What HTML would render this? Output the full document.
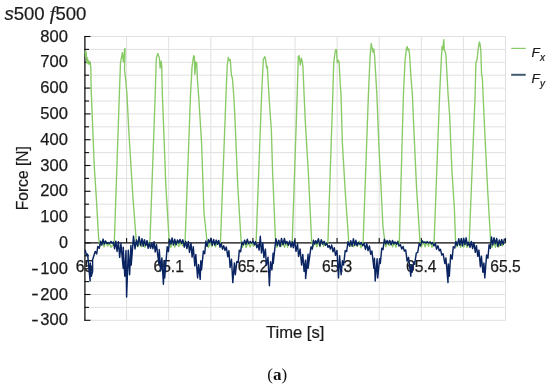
<!DOCTYPE html>
<html><head><meta charset="utf-8"><style>
html,body{margin:0;padding:0;background:#fff;}
svg{display:block;}
.lab{font-family:"Liberation Sans",sans-serif;font-size:16.5px;fill:#1a1a1a;stroke:#1a1a1a;stroke-width:0.25px;}
.t{font-family:"Liberation Sans",sans-serif;fill:#1a1a1a;stroke:#1a1a1a;stroke-width:0.2px;}
</style></head><body>
<svg width="550" height="389" viewBox="0 0 550 389">
<rect width="550" height="389" fill="#fff"/>
<text class="t" x="4.4" y="20.1" font-size="17.5" textLength="82" lengthAdjust="spacingAndGlyphs"><tspan font-style="italic">s</tspan>500 <tspan font-style="italic" font-family="Liberation Serif,serif" font-size="19">f</tspan>500</text>
<g stroke="#e0e0e0" stroke-width="1"><line x1="85" y1="36.50" x2="505.5" y2="36.50"/><line x1="85" y1="49.40" x2="505.5" y2="49.40"/><line x1="85" y1="62.30" x2="505.5" y2="62.30"/><line x1="85" y1="75.20" x2="505.5" y2="75.20"/><line x1="85" y1="88.10" x2="505.5" y2="88.10"/><line x1="85" y1="101.00" x2="505.5" y2="101.00"/><line x1="85" y1="113.90" x2="505.5" y2="113.90"/><line x1="85" y1="126.80" x2="505.5" y2="126.80"/><line x1="85" y1="139.70" x2="505.5" y2="139.70"/><line x1="85" y1="152.60" x2="505.5" y2="152.60"/><line x1="85" y1="165.50" x2="505.5" y2="165.50"/><line x1="85" y1="178.40" x2="505.5" y2="178.40"/><line x1="85" y1="191.30" x2="505.5" y2="191.30"/><line x1="85" y1="204.20" x2="505.5" y2="204.20"/><line x1="85" y1="217.10" x2="505.5" y2="217.10"/><line x1="85" y1="230.00" x2="505.5" y2="230.00"/><line x1="85" y1="242.90" x2="505.5" y2="242.90"/><line x1="85" y1="255.80" x2="505.5" y2="255.80"/><line x1="85" y1="268.70" x2="505.5" y2="268.70"/><line x1="85" y1="281.60" x2="505.5" y2="281.60"/><line x1="85" y1="294.50" x2="505.5" y2="294.50"/><line x1="85" y1="307.40" x2="505.5" y2="307.40"/><line x1="85" y1="320.30" x2="505.5" y2="320.30"/><line x1="126.60" y1="36.50" x2="126.60" y2="320.30"/><line x1="168.70" y1="36.50" x2="168.70" y2="320.30"/><line x1="210.80" y1="36.50" x2="210.80" y2="320.30"/><line x1="252.90" y1="36.50" x2="252.90" y2="320.30"/><line x1="295.00" y1="36.50" x2="295.00" y2="320.30"/><line x1="337.10" y1="36.50" x2="337.10" y2="320.30"/><line x1="379.20" y1="36.50" x2="379.20" y2="320.30"/><line x1="421.30" y1="36.50" x2="421.30" y2="320.30"/><line x1="463.40" y1="36.50" x2="463.40" y2="320.30"/><line x1="505.50" y1="36.50" x2="505.50" y2="320.30"/></g>
<g stroke="#111" stroke-width="1.1"><line x1="84.9" y1="36.00" x2="84.9" y2="320.80" stroke-width="1.3"/><line x1="84.5" y1="36.50" x2="90.5" y2="36.50"/><line x1="84.5" y1="49.40" x2="89" y2="49.40"/><line x1="84.5" y1="62.30" x2="90.5" y2="62.30"/><line x1="84.5" y1="75.20" x2="89" y2="75.20"/><line x1="84.5" y1="88.10" x2="90.5" y2="88.10"/><line x1="84.5" y1="101.00" x2="89" y2="101.00"/><line x1="84.5" y1="113.90" x2="90.5" y2="113.90"/><line x1="84.5" y1="126.80" x2="89" y2="126.80"/><line x1="84.5" y1="139.70" x2="90.5" y2="139.70"/><line x1="84.5" y1="152.60" x2="89" y2="152.60"/><line x1="84.5" y1="165.50" x2="90.5" y2="165.50"/><line x1="84.5" y1="178.40" x2="89" y2="178.40"/><line x1="84.5" y1="191.30" x2="90.5" y2="191.30"/><line x1="84.5" y1="204.20" x2="89" y2="204.20"/><line x1="84.5" y1="217.10" x2="90.5" y2="217.10"/><line x1="84.5" y1="230.00" x2="89" y2="230.00"/><line x1="84.5" y1="242.90" x2="90.5" y2="242.90"/><line x1="84.5" y1="255.80" x2="89" y2="255.80"/><line x1="84.5" y1="268.70" x2="90.5" y2="268.70"/><line x1="84.5" y1="281.60" x2="89" y2="281.60"/><line x1="84.5" y1="294.50" x2="90.5" y2="294.50"/><line x1="84.5" y1="307.40" x2="89" y2="307.40"/><line x1="84.5" y1="320.30" x2="90.5" y2="320.30"/><line x1="85" y1="242.90" x2="505.5" y2="242.90"/><line x1="126.60" y1="242.90" x2="126.60" y2="238.10"/><line x1="168.70" y1="242.90" x2="168.70" y2="238.10"/><line x1="210.80" y1="242.90" x2="210.80" y2="238.10"/><line x1="252.90" y1="242.90" x2="252.90" y2="238.10"/><line x1="295.00" y1="242.90" x2="295.00" y2="238.10"/><line x1="337.10" y1="242.90" x2="337.10" y2="238.10"/><line x1="379.20" y1="242.90" x2="379.20" y2="238.10"/><line x1="421.30" y1="242.90" x2="421.30" y2="238.10"/><line x1="463.40" y1="242.90" x2="463.40" y2="238.10"/><line x1="505.50" y1="242.90" x2="505.50" y2="238.10"/></g>
<g class="lab"><text x="75.70" y="271.6" textLength="17.6" lengthAdjust="spacingAndGlyphs">65</text><text x="153.50" y="271.6" textLength="30.4" lengthAdjust="spacingAndGlyphs">65.1</text><text x="237.70" y="271.6" textLength="30.4" lengthAdjust="spacingAndGlyphs">65.2</text><text x="321.90" y="271.6" textLength="30.4" lengthAdjust="spacingAndGlyphs">65.3</text><text x="406.10" y="271.6" textLength="30.4" lengthAdjust="spacingAndGlyphs">65.4</text><text x="490.30" y="271.6" textLength="30.4" lengthAdjust="spacingAndGlyphs">65.5</text></g>
<polyline points="85.0,50.4 85.6,57.0 86.2,52.0 86.8,63.0 87.5,58.0 88.2,64.0 88.9,61.0 89.6,64.0 90.3,63.0 90.8,68.0 91.2,90.0 94.2,165.0 96.2,196.0 98.7,239.0 99.5,243.0 100.4,246.0 102.2,241.5 104.1,246.9 105.6,240.8 107.6,246.1 109.2,242.6 111.0,247.3 113.5,244.0 114.4,240.0 119.4,93.0 120.5,62.8 122.4,52.7 123.4,62.0 124.6,49.0 125.1,48.6 124.5,70.0 125.5,78.0 127.0,95.0 128.8,131.0 132.9,197.0 136.2,240.0 137.0,244.0 137.9,246.9 139.4,241.9 141.5,246.7 143.5,242.0 145.0,247.2 146.8,241.3 149.0,244.0 150.0,240.0 155.2,95.0 156.3,58.1 157.8,53.5 159.4,58.1 160.1,68.1 161.2,61.2 161.7,65.8 162.4,95.0 165.8,184.6 169.1,240.0 170.0,244.0 170.9,247.4 172.7,242.1 174.8,247.1 176.9,241.5 178.9,246.5 181.0,242.4 182.5,245.8 184.5,244.0 185.1,241.0 190.5,95.0 192.0,67.4 193.6,55.8 194.4,56.6 194.8,74.3 195.9,62.0 196.7,62.8 197.4,79.7 198.6,95.0 201.6,143.4 204.0,213.0 206.9,240.0 207.5,244.0 208.4,247.6 210.2,241.9 211.8,246.6 213.5,241.4 215.4,246.8 217.5,242.0 220.0,244.0 220.5,241.0 226.0,95.0 227.2,65.8 228.3,57.4 229.4,60.4 230.3,59.7 231.4,75.0 232.4,78.2 233.7,95.0 234.8,114.6 237.7,184.5 241.0,240.0 241.5,244.0 242.4,247.4 244.6,242.0 246.1,247.4 248.2,242.4 250.1,247.1 251.7,242.3 253.5,246.1 255.5,244.0 256.2,240.0 261.6,95.0 263.3,59.7 264.8,56.6 265.6,59.7 266.4,65.8 266.8,68.1 267.4,66.5 267.9,78.2 269.0,95.0 269.7,106.4 271.4,131.0 272.6,172.0 275.5,240.0 276.0,244.0 276.9,247.4 279.1,241.0 281.1,246.4 282.6,241.3 284.6,247.4 286.1,241.9 287.6,247.1 289.2,242.4 291.5,244.0 292.3,240.0 297.2,95.0 298.3,56.6 299.2,55.8 300.3,65.0 301.4,58.1 302.3,62.0 302.9,66.0 304.1,95.0 305.4,122.9 308.3,172.0 311.6,240.0 312.2,244.0 313.1,246.6 315.3,241.4 316.8,246.8 318.2,241.2 320.0,246.8 321.5,240.9 323.6,246.2 325.7,242.4 327.5,244.0 328.0,240.0 332.8,95.0 333.7,62.8 334.8,54.3 335.7,49.6 336.5,49.6 337.3,62.8 338.4,60.4 339.1,62.0 339.9,78.2 341.0,95.0 342.4,143.4 345.3,192.7 348.6,240.0 349.0,244.0 349.9,246.5 351.7,242.0 353.6,246.7 355.5,242.5 357.3,246.4 359.2,241.2 360.9,247.7 362.7,244.0 363.2,240.0 368.4,95.0 370.0,58.1 371.2,43.5 372.3,48.9 373.0,52.0 373.8,48.9 374.6,56.0 376.9,95.0 378.8,143.4 380.5,176.2 382.9,225.5 384.6,240.0 385.0,244.0 385.9,246.7 387.3,241.5 389.2,245.5 391.1,241.9 392.6,246.9 394.3,242.0 396.0,247.1 398.0,240.8 399.0,244.0 399.4,240.0 403.4,95.0 405.0,61.2 406.5,48.1 407.3,46.6 408.0,50.4 408.8,48.9 409.6,55.0 410.8,75.0 412.4,95.0 414.5,143.4 416.6,188.6 419.9,240.0 420.3,244.0 421.2,247.0 423.3,241.3 425.1,246.8 426.8,241.5 428.4,246.3 430.3,241.3 432.0,247.2 433.5,244.0 434.2,240.0 439.6,95.0 441.2,61.2 442.0,46.6 442.7,49.6 443.8,39.6 444.3,50.4 445.4,52.0 445.9,55.0 448.1,95.0 449.6,114.6 452.0,172.0 454.4,209.0 455.5,240.0 456.0,244.0 456.9,246.8 458.9,241.4 460.5,247.3 462.1,241.1 463.8,247.0 465.3,241.4 467.0,247.3 469.0,244.0 469.3,240.0 475.1,95.0 475.9,62.8 477.0,59.7 478.2,48.9 479.3,41.9 480.1,44.3 480.8,50.4 481.6,75.0 482.4,78.2 483.1,95.0 484.9,135.0 487.8,192.7 490.6,240.0 491.0,244.0 492.0,247.4 493.6,241.4 495.5,247.4 497.2,241.2 498.8,246.7 500.3,242.3 502.4,245.9 504.0,242.3" fill="none" stroke="#88ca66" stroke-width="1.35" stroke-linejoin="round"/>
<polyline points="85.2,249.8 86.4,255.1 87.6,254.1 90.1,281.0 90.2,262.9 91.3,276.2 92.6,271.5 92.6,259.8 95.2,251.5 96.7,253.9 97.8,246.4 99.2,248.3 100.6,241.3 101.8,245.0 103.1,239.1 104.3,244.0 105.5,241.1 106.9,243.6 108.1,242.5 109.4,243.6 110.9,241.4 112.1,243.2 113.4,242.1 114.6,248.7 115.8,241.2 117.1,251.4 118.4,241.7 119.7,257.4 120.9,243.5 123.2,268.3 123.2,247.1 124.8,276.2 126.0,250.6 126.6,297.0 128.3,250.2 129.6,274.7 130.9,245.4 131.2,265.1 133.5,236.1 135.0,249.0 136.5,239.9 137.7,246.0 139.1,236.6 140.6,245.6 142.0,238.6 143.2,246.2 144.4,239.7 145.8,245.5 147.0,240.6 148.1,248.3 149.4,242.9 150.5,248.2 151.8,243.0 152.9,248.7 154.1,241.7 155.2,251.9 156.5,244.8 158.8,263.5 159.3,249.6 160.6,270.9 161.9,257.9 163.4,284.2 164.4,260.6 164.7,277.9 167.2,246.8 168.4,251.6 169.6,239.4 171.0,244.0 172.1,237.9 173.5,244.9 174.7,239.3 176.1,244.7 177.5,239.9 178.6,242.8 180.1,239.4 181.5,243.3 182.9,239.8 184.3,247.2 185.6,241.3 186.9,248.5 188.4,241.5 189.5,252.4 191.0,243.2 192.1,257.1 193.3,246.7 194.8,265.9 195.8,254.4 197.6,277.9 198.6,264.6 200.2,279.4 200.8,260.8 201.5,269.9 203.4,251.0 204.7,253.8 205.9,241.1 207.1,246.3 208.5,239.6 209.9,242.5 211.0,238.2 212.3,245.3 213.6,239.4 214.9,245.0 216.2,240.1 217.6,244.2 218.7,240.4 220.0,247.2 221.2,243.4 222.5,249.2 223.7,245.8 225.0,250.4 226.3,246.9 227.8,256.7 228.9,250.7 230.1,267.5 231.5,259.3 232.8,282.6 234.4,262.9 235.3,274.7 236.8,261.6 238.2,262.5 239.3,250.3 240.6,251.8 242.0,242.1 243.2,244.8 244.6,240.2 246.0,244.3 247.3,239.3 248.7,243.6 250.2,241.4 251.6,243.1 253.1,241.3 254.4,244.8 255.6,241.6 256.8,247.7 258.0,244.4 259.1,250.1 260.3,236.3 261.5,253.0 262.8,243.0 263.9,257.6 265.4,249.1 266.4,265.1 268.0,257.3 269.4,285.8 270.5,261.8 271.9,269.9 273.1,253.2 273.2,263.5 275.9,238.7 277.4,245.6 278.7,240.2 280.1,246.5 281.5,238.4 283.0,244.8 284.4,238.5 285.7,243.8 286.9,241.4 288.3,245.2 289.7,241.0 291.0,247.1 292.2,241.8 293.3,247.7 294.6,240.3 296.0,251.3 297.5,243.8 298.6,256.4 300.1,249.0 301.6,265.1 302.8,254.4 304.1,271.5 305.5,260.1 305.6,278.6 308.1,254.2 308.1,268.3 311.0,246.8 312.3,249.1 313.5,240.2 314.7,244.1 315.8,240.8 316.9,243.6 318.4,238.7 319.9,245.9 321.3,239.7 322.7,244.1 324.1,241.3 325.5,245.2 326.8,243.1 328.0,247.3 329.3,245.5 330.4,249.1 331.7,245.1 333.0,251.7 334.3,247.7 335.5,255.3 337.0,250.5 338.5,277.9 339.6,255.8 341.1,274.7 342.4,260.7 343.6,265.1 345.2,250.6 346.6,251.6 348.0,241.7 349.5,246.0 350.8,240.8 352.1,246.2 353.4,238.8 354.8,245.3 355.9,240.3 357.1,245.6 358.5,242.5 360.0,244.3 361.2,242.5 362.7,245.8 364.1,243.4 365.5,249.4 366.8,243.6 368.0,250.7 369.4,245.9 370.7,254.3 371.9,250.9 373.9,268.3 374.5,258.2 375.2,281.0 377.1,258.8 377.7,277.9 379.6,258.8 380.3,263.5 381.8,248.2 383.0,249.6 384.4,239.3 385.8,243.7 387.1,240.5 388.2,243.9 389.7,240.4 391.1,244.7 392.5,240.4 393.9,243.9 395.1,242.0 396.5,244.2 397.7,241.7 399.0,246.0 400.4,244.7 401.8,249.0 403.1,246.5 404.3,251.1 405.7,249.9 407.1,261.1 408.6,257.3 410.8,276.2 411.2,265.6 412.0,272.3 413.8,261.9 414.6,264.3 416.3,253.2 417.7,252.4 419.2,243.3 420.5,245.9 422.0,240.7 423.4,242.7 424.8,241.9 426.2,243.1 427.4,241.8 428.6,242.9 430.1,242.1 431.4,243.9 432.5,242.5 434.0,245.9 435.4,243.6 436.5,249.2 437.9,245.7 439.3,250.8 440.5,249.3 441.8,255.0 443.1,253.7 444.8,263.5 445.9,257.9 448.0,282.6 448.3,263.9 449.3,276.2 450.7,254.8 452.1,259.1 453.3,246.8 454.8,248.0 455.9,241.5 457.3,245.6 458.8,238.7 459.9,245.2 461.3,238.5 462.4,246.0 463.7,238.3 465.0,244.5 466.1,237.8 467.5,245.6 468.7,242.3 470.0,247.4 471.3,241.5 472.6,248.5 473.9,242.5 475.3,252.3 476.4,245.7 477.8,256.3 478.9,250.1 480.4,266.7 481.4,256.3 482.9,272.3 483.9,263.0 484.8,277.9 486.6,255.0 487.9,258.3 489.1,244.7 490.3,248.4 491.5,237.0 492.8,245.0 494.0,237.7 495.3,243.8 496.7,238.5 497.9,246.6 499.3,239.9 500.6,245.3 501.7,239.5 503.2,244.4 504.5,238.7" fill="none" stroke="#0a2462" stroke-width="1.45" stroke-linejoin="round"/>
<g class="lab"><text x="40.30" y="41.50" textLength="27.6" lengthAdjust="spacingAndGlyphs">800</text><text x="40.30" y="67.30" textLength="27.6" lengthAdjust="spacingAndGlyphs">700</text><text x="40.30" y="93.10" textLength="27.6" lengthAdjust="spacingAndGlyphs">600</text><text x="40.30" y="118.90" textLength="27.6" lengthAdjust="spacingAndGlyphs">500</text><text x="40.30" y="144.70" textLength="27.6" lengthAdjust="spacingAndGlyphs">400</text><text x="40.30" y="170.50" textLength="27.6" lengthAdjust="spacingAndGlyphs">300</text><text x="40.30" y="196.30" textLength="27.6" lengthAdjust="spacingAndGlyphs">200</text><text x="40.30" y="222.10" textLength="27.6" lengthAdjust="spacingAndGlyphs">100</text><text x="58.90" y="247.90" textLength="9.0" lengthAdjust="spacingAndGlyphs">0</text><text x="31.3" y="273.50" textLength="7.4" lengthAdjust="spacingAndGlyphs">-</text><text x="40.30" y="273.70" textLength="27.6" lengthAdjust="spacingAndGlyphs">100</text><text x="31.3" y="299.30" textLength="7.4" lengthAdjust="spacingAndGlyphs">-</text><text x="40.30" y="299.50" textLength="27.6" lengthAdjust="spacingAndGlyphs">200</text><text x="31.3" y="325.10" textLength="7.4" lengthAdjust="spacingAndGlyphs">-</text><text x="40.30" y="325.30" textLength="27.6" lengthAdjust="spacingAndGlyphs">300</text></g>
<text class="t" transform="translate(28.2,210.3) rotate(-90)" font-size="16.3" textLength="64.2" lengthAdjust="spacingAndGlyphs">Force [N]</text>
<text class="t" x="266" y="337.6" font-size="15.8" textLength="58.4" lengthAdjust="spacingAndGlyphs">Time [s]</text>
<line x1="511.2" y1="48.4" x2="525.7" y2="48.4" stroke="#88ca66" stroke-width="1.2"/>
<line x1="511.2" y1="74.8" x2="525.7" y2="74.8" stroke="#415a6e" stroke-width="2"/>
<text class="t" x="531.6" y="56.6" font-size="13.6" font-style="italic">F<tspan font-size="10" dy="3.9">x</tspan></text>
<text class="t" x="531.6" y="83" font-size="13.6" font-style="italic">F<tspan font-size="10" dy="3.9">y</tspan></text>
<text x="267.3" y="380.3" font-family="Liberation Serif,serif" font-size="17" fill="#111">(<tspan font-weight="bold">a</tspan>)</text>
</svg>
</body></html>
